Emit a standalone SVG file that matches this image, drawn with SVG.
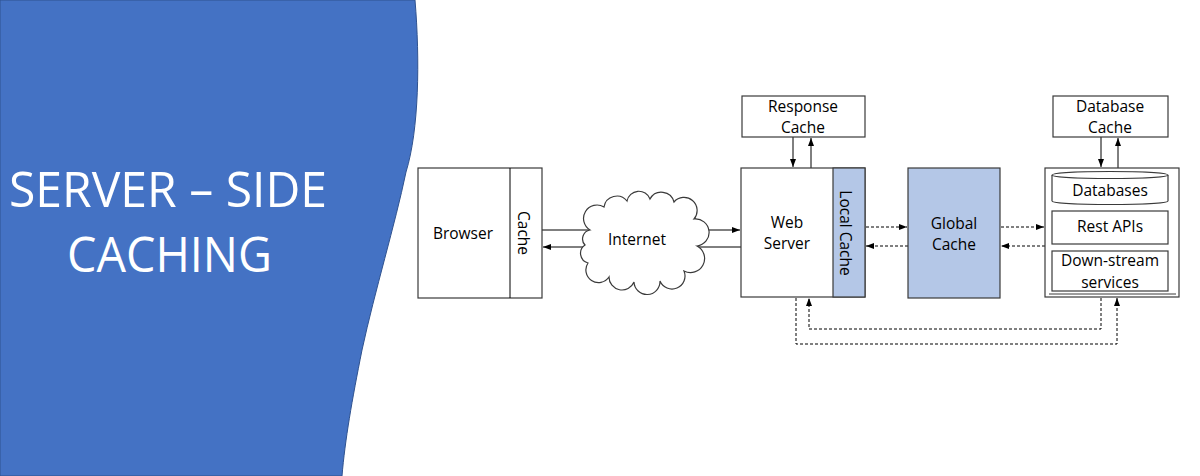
<svg xmlns="http://www.w3.org/2000/svg" width="1200" height="476" viewBox="0 0 1200 476">
<style>
.box{fill:#fff;stroke:#3a3a3a;stroke-width:1.2}
.blue{fill:#b4c7e7;stroke:#3a3a3a;stroke-width:1.2}
.t{font-family:"Open Sans","Liberation Sans",sans-serif;font-size:15.5px;fill:#000;text-anchor:middle}
.title{font-family:"Open Sans","Liberation Sans",sans-serif;font-size:49px;fill:#fff;text-anchor:middle}
.ln{fill:none;stroke:#000;stroke-width:1}
.dash{fill:none;stroke:#000;stroke-width:1;stroke-dasharray:3,2}
</style>
<defs>
<marker id="ah" viewBox="0 0 8 6" refX="8" refY="3" markerWidth="8" markerHeight="6" markerUnits="userSpaceOnUse" orient="auto">
<path d="M0,0 L8,3 L0,6 Z" fill="#000"/>
</marker>
</defs>
<rect width="1200" height="476" fill="#fff"/>
<g id="banner">
<path d="M0,0 L415,0 C420,60 419,130 406,172 C395,225 375,290 362,350 C352,400 345,440 342,476 L0,476 Z" fill="#4472c4" stroke="#2f528f" stroke-width="1"/>
<text class="title" x="168" y="207" textLength="318" lengthAdjust="spacingAndGlyphs">SERVER – SIDE</text>
<text class="title" x="169.5" y="272" textLength="205" lengthAdjust="spacingAndGlyphs">CACHING</text>
</g>
<g id="connectors">
<line class="ln" x1="542" y1="230" x2="740" y2="230" marker-end="url(#ah)"/>
<line class="ln" x1="741" y1="247" x2="543" y2="247" marker-end="url(#ah)"/>
<line class="ln" x1="793" y1="137" x2="793" y2="167" marker-end="url(#ah)"/>
<line class="ln" x1="811" y1="168" x2="811" y2="138" marker-end="url(#ah)"/>
<line class="ln" x1="1101" y1="137" x2="1101" y2="167" marker-end="url(#ah)"/>
<line class="ln" x1="1118" y1="168" x2="1118" y2="138" marker-end="url(#ah)"/>
<line class="dash" x1="866" y1="227" x2="907" y2="227" marker-end="url(#ah)"/>
<line class="dash" x1="908" y1="246" x2="866" y2="246" marker-end="url(#ah)"/>
<line class="dash" x1="1001" y1="227" x2="1044" y2="227" marker-end="url(#ah)"/>
<line class="dash" x1="1045" y1="246" x2="1001" y2="246" marker-end="url(#ah)"/>
<path class="dash" d="M796,298 V344 H1117 V298" marker-end="url(#ah)"/>
<path class="dash" d="M1101,298 V329 H809 V298" marker-end="url(#ah)"/>
</g>
<g id="browser">
<rect class="box" x="418" y="168" width="124" height="130"/>
<line class="ln" x1="510" y1="168" x2="510" y2="298" stroke="#3a3a3a"/>
<text class="t" x="463" y="239">Browser</text>
<text class="t" transform="translate(518,233) rotate(90)" x="0" y="0">Cache</text>
</g>
<g id="internet">
<path d="M590,230 A12,12 0 0 1 604,207 A13,13 0 0 1 627,201 A12,12 0 0 1 650,199 A13,13 0 0 1 674,202 A13,13 0 0 1 694,219 A13,13 0 0 1 697,246 A13,13 0 0 1 684,271 A13,13 0 0 1 660,281 A13,13 0 0 1 634,282 A13,13 0 0 1 609,277 A12,12 0 0 1 588,263 A10,10 0 0 1 585,245 A9,9 0 0 1 590,230 Z" fill="#fff" stroke="#3a3a3a" stroke-width="1.2"/>
<text class="t" x="637" y="245">Internet</text>
</g>
<g id="response-cache">
<rect class="box" x="742" y="96" width="123" height="41"/>
<text class="t" x="803" y="112">Response</text>
<text class="t" x="803" y="133">Cache</text>
</g>
<g id="web-server">
<rect class="box" x="741" y="168" width="124" height="129"/>
<rect class="blue" x="833" y="168" width="32" height="129"/>
<text class="t" x="787" y="228">Web</text>
<text class="t" x="787" y="249">Server</text>
<text class="t" transform="translate(840,233) rotate(90)" x="0" y="0">Local Cache</text>
</g>
<g id="global-cache">
<rect class="blue" x="908" y="168" width="92" height="130"/>
<text class="t" x="954" y="229">Global</text>
<text class="t" x="954" y="250">Cache</text>
</g>
<g id="database-cache">
<rect class="box" x="1053" y="96" width="115" height="41"/>
<text class="t" x="1110" y="112">Database</text>
<text class="t" x="1110" y="133">Cache</text>
</g>
<g id="backend">
<rect class="box" x="1045" y="168" width="134" height="129"/>
<line x1="1049" y1="294" x2="1176" y2="294" stroke="#3a3a3a" stroke-width="1"/>
<g id="databases">
<path d="M1052,175 V201 A58,3.5 0 0 0 1168,201 V175" fill="#fff" stroke="#3a3a3a" stroke-width="1.2"/>
<ellipse cx="1110" cy="175" rx="58" ry="3.5" fill="#fff" stroke="#3a3a3a" stroke-width="1.2"/>
<text class="t" x="1110" y="196">Databases</text>
</g>
<g id="rest-apis">
<rect class="box" x="1052" y="211" width="116" height="33"/>
<text class="t" x="1110" y="232">Rest APIs</text>
</g>
<g id="downstream">
<rect class="box" x="1052" y="251" width="116" height="40"/>
<text class="t" x="1110" y="266">Down-stream</text>
<text class="t" x="1110" y="287.5">services</text>
</g>
</g>
</svg>
